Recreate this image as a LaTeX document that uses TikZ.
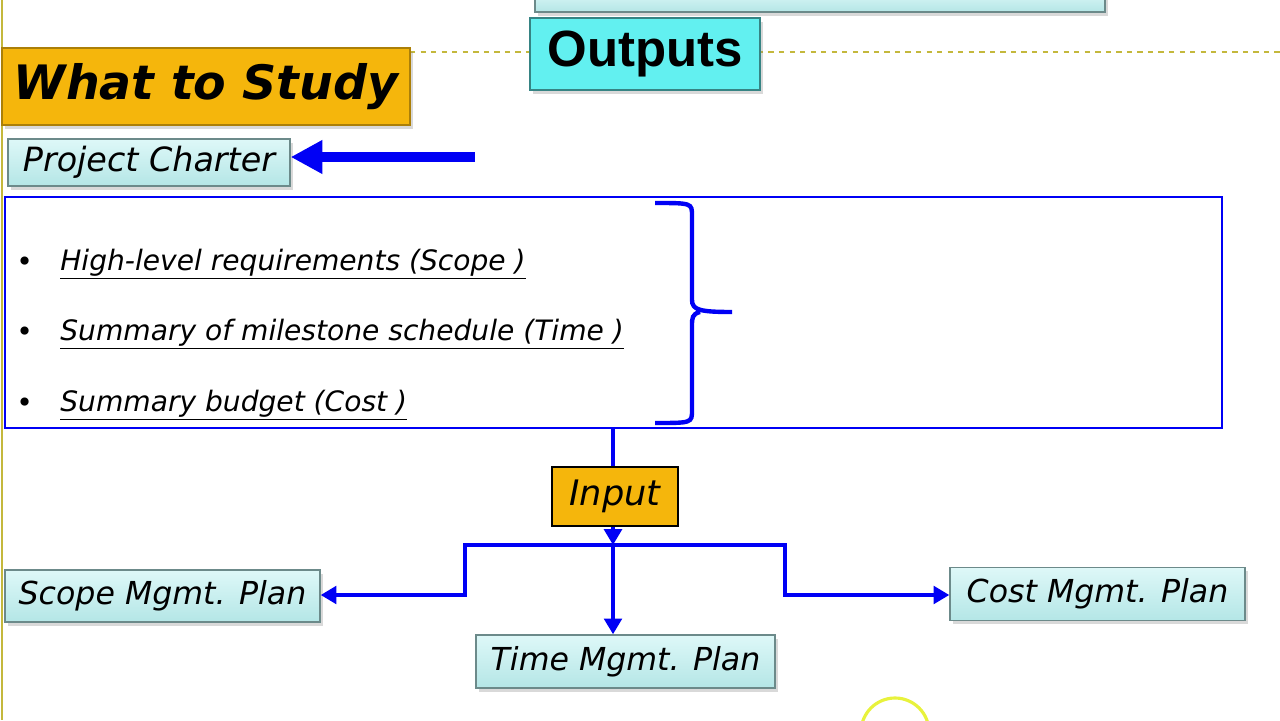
\documentclass[tikz,border=0pt]{standalone}
\usepackage{fontspec}
\setmainfont{DejaVu Sans}
\newfontfamily\headfont{Liberation Sans}
\usepackage{tikz}
\usetikzlibrary{arrows.meta,shadows}

\definecolor{boxorange}{RGB}{245,182,12}
\definecolor{palecyan}{RGB}{222,248,248}
\definecolor{palecyandk}{RGB}{180,230,230}
\definecolor{brightcyan}{RGB}{98,240,240}
\definecolor{linkblue}{RGB}{0,0,245}
\definecolor{guideolive}{RGB}{196,184,60}
\definecolor{cursoryellow}{RGB}{232,242,60}

\tikzset{
    shade/.style={drop shadow={opacity=0.3,shadow xshift=1.5pt,shadow yshift=-2pt}},
    plan/.style={shade, draw=palecyandk!60!black, line width=0.8pt, top color=palecyan, bottom color=palecyandk, inner sep=0pt, font=\itshape\fontsize{18}{21}\selectfont},
    title/.style={shade, draw=boxorange!70!black, line width=0.8pt, fill=boxorange, inner sep=0pt, font=\bfseries\itshape\fontsize{27}{30}\selectfont},
    outbox/.style={shade, draw=brightcyan!55!black, line width=0.8pt, fill=brightcyan, inner sep=0pt, font=\headfont\bfseries\fontsize{29}{31}\selectfont},
    inbox/.style={draw=black, line width=1.4pt, fill=boxorange, inner sep=0pt, font=\itshape\fontsize{20}{22}\selectfont},
    item/.style={anchor=west, inner sep=0pt, font=\itshape\fontsize{16}{19}\selectfont},
    link/.style={draw=linkblue, line width=2.2pt, -{Triangle[width=10pt,length=9pt]}}
}

\begin{document}
\begin{tikzpicture}[x=0.02cm, y=-0.02cm]
        \useasboundingbox (0,0) rectangle (1280,720);

        % slide guides
        \draw[guideolive, line width=0.6pt] (2,0) -- (2,720);
        \draw[guideolive, line width=0.6pt, dashed] (410,52) -- (1280,52);

        % headings
        \node[plan, minimum width=11.4cm, minimum height=0.44cm] (topbar) at (820,1) {};
        \node[outbox, minimum width=4.6cm, minimum height=1.44cm] (out) at (645,54) {Outputs};
        \node[title, minimum width=8.16cm, minimum height=1.54cm] (study) at (206,86.5) {What to Study};
        \node[plan, minimum width=5.64cm, minimum height=0.94cm, font=\itshape\fontsize{19}{22}\selectfont] (charter) at (149,162.5) {Project Charter};
        \coordinate (chartertail) at (475,157);
        \draw[linkblue, line width=5.7pt, -{Triangle[width=18pt,length=18pt]}] (chartertail) -- (charter.east |- chartertail);

        % charter contents
        \node[draw=linkblue, line width=1.1pt, minimum width=24.34cm, minimum height=4.62cm] (frame) at (613.5,312.5) {};
        \node[item] (b1) at (16,264) {\textbullet};
        \node[item] (b2) at (16,334) {\textbullet};
        \node[item] (b3) at (16,405) {\textbullet};
        \node[item] (req) at (60,264) {\underline{High-level requirements (Scope )}};
        \node[item] (mile) at (60,334) {\underline{Summary of milestone schedule (Time )}};
        \node[item] (budget) at (60,405) {\underline{Summary budget (Cost )}};
        \draw[linkblue, line width=2.5pt] (655,203) .. controls (692,203) .. (692,216) -- (692,300)
            .. controls (692,310) and (700,312) .. (732,312)
            (700,312) .. controls (692,314) and (692,318) .. (692,326) -- (692,410)
            .. controls (692,423) .. (655,423);

        % input and the three plans
        \node[inbox, minimum width=2.52cm, minimum height=1.18cm] (in) at (615,496.5) {Input};
        \node[plan, minimum width=6.3cm, minimum height=1.04cm] (scope) at (162.5,596) {Scope Mgmt. Plan};
        \node[plan, minimum width=5.98cm, minimum height=1.06cm] (time) at (625.5,661.5) {Time Mgmt. Plan};
        \node[plan, minimum width=5.9cm, minimum height=1.06cm] (cost) at (1097.5,594) {Cost Mgmt. Plan};

        \coordinate (split) at (613,545);
        \coordinate (lknee) at (465,595);
        \coordinate (rknee) at (785,595);

        \draw[link, -] (frame.south -| split) -- (in.north -| split);
        \draw[link] (in.south -| split) -- (split);
        \draw[link] (split) -- (time.north -| split);
        \draw[link] (split) -| (lknee) -- (scope.east |- lknee);
        \draw[link] (split) -| (rknee) -- (cost.west |- rknee);

        % pointer highlight
        \draw[cursoryellow, line width=1.8pt] (895,732) circle (34);
\end{tikzpicture}
\end{document}
